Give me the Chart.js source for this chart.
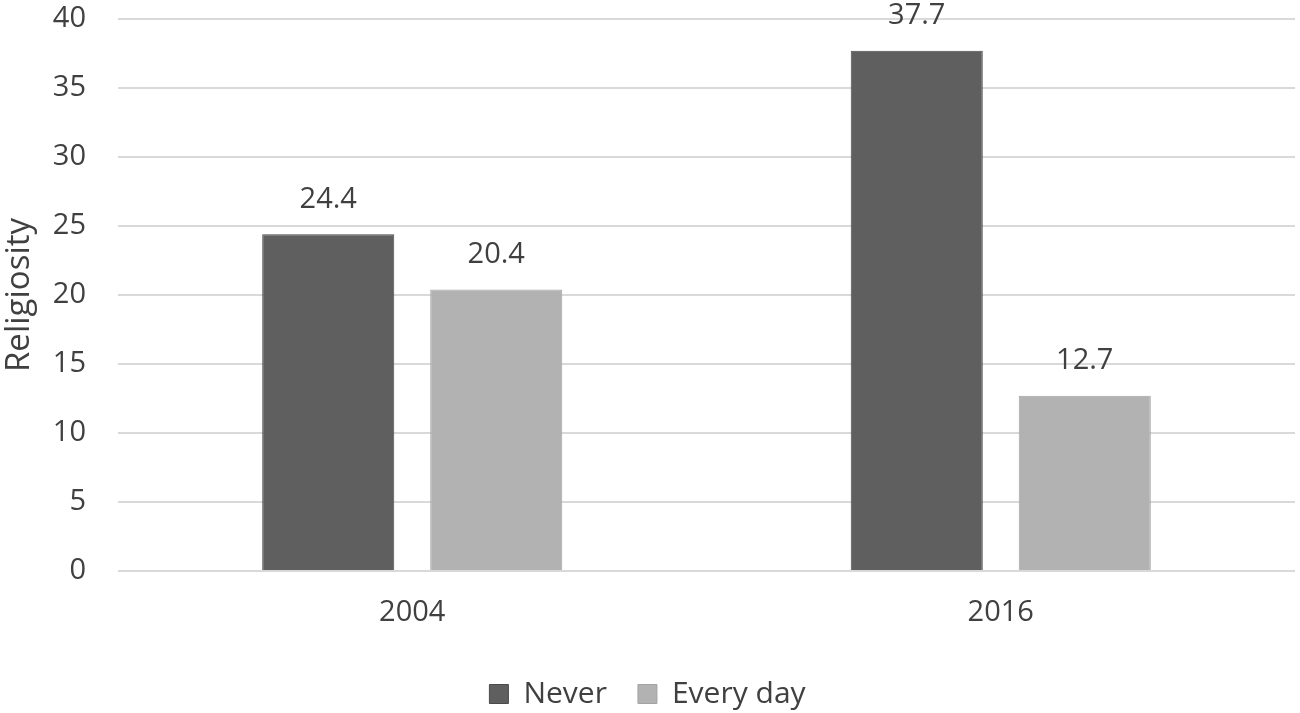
<!DOCTYPE html>
<html>
<head>
<meta charset="utf-8">
<script src="https://cdn.jsdelivr.net/npm/chart.js@4/dist/chart.umd.min.js"></script>
<style>
  html, body { margin: 0; padding: 0; background: #fff; }
  #wrap { width: 1300px; height: 713px; }
</style>
</head>
<body>
<div id="wrap"><canvas id="chart"></canvas></div>
<script>
const years = ['2004', '2016'];
const neverValues = [24.4, 37.7];
const everyDayValues = [20.4, 12.7];
const yTicks = [0, 5, 10, 15, 20, 25, 30, 35, 40];

const textColor = '#404040';
const fontFamily = '"Open Sans", "Noto Sans", sans-serif';

// draws the value above each bar
const valueLabels = {
    id: 'valueLabels',
    afterDatasetsDraw(chart) {
        const ctx = chart.ctx;
        ctx.save();
        ctx.font = '29px ' + fontFamily;
        ctx.fillStyle = textColor;
        ctx.textAlign = 'center';
        ctx.textBaseline = 'middle';
        chart.data.datasets.forEach((ds, i) => {
            chart.getDatasetMeta(i).data.forEach((bar, j) => {
                ctx.fillText(ds.data[j].toFixed(1), bar.x, bar.y - 35);
            });
        });
        ctx.restore();
    }
};

new Chart(document.getElementById('chart'), {
    type: 'bar',
    data: {
        labels: years,
        datasets: [{
            label: 'Never',
            data: neverValues,
            backgroundColor: '#5f5f5f',
            borderColor: '#4a4a4a',
            borderWidth: 1
        }, {
            label: 'Every day',
            data: everyDayValues,
            backgroundColor: '#b2b2b2',
            borderColor: '#a3a3a3',
            borderWidth: 1
        }]
    },
    options: {
        responsive: true,
        maintainAspectRatio: false,
        animation: false,
        layout: { padding: { top: 19, right: 5, bottom: 0 } },
        datasets: { bar: { categoryPercentage: 0.571, barPercentage: 0.786 } },
        plugins: {
            legend: {
                position: 'bottom',
                maxHeight: 65,
                labels: {
                    color: textColor,
                    font: { family: fontFamily, size: 30 },
                    boxWidth: 19,
                    boxHeight: 19,
                    padding: 31
                }
            },
            tooltip: { enabled: false }
        },
        scales: {
            x: {
                grid: { display: false },
                border: { display: false },
                ticks: {
                    color: textColor,
                    font: { family: fontFamily, size: 29 },
                    padding: 16
                },
                afterFit(scale) { scale.height = 77; }
            },
            y: {
                min: 0,
                max: 40,
                afterBuildTicks(scale) {
                    scale.ticks = yTicks.map(v => ({ value: v }));
                },
                grid: { color: '#d9d9d9', lineWidth: 2, drawTicks: false },
                border: { display: false },
                ticks: {
                    color: textColor,
                    font: { family: fontFamily, size: 29 },
                    padding: 32
                },
                title: {
                    display: true,
                    text: 'Religiosity',
                    color: textColor,
                    font: { family: fontFamily, size: 33 },
                    padding: 0
                },
                afterFit(scale) {
                    scale.width = 118;
                    scale.paddingTop = 0;
                    scale.paddingBottom = 0;
                }
            }
        }
    },
    plugins: [valueLabels]
});
</script>
</body>
</html>
